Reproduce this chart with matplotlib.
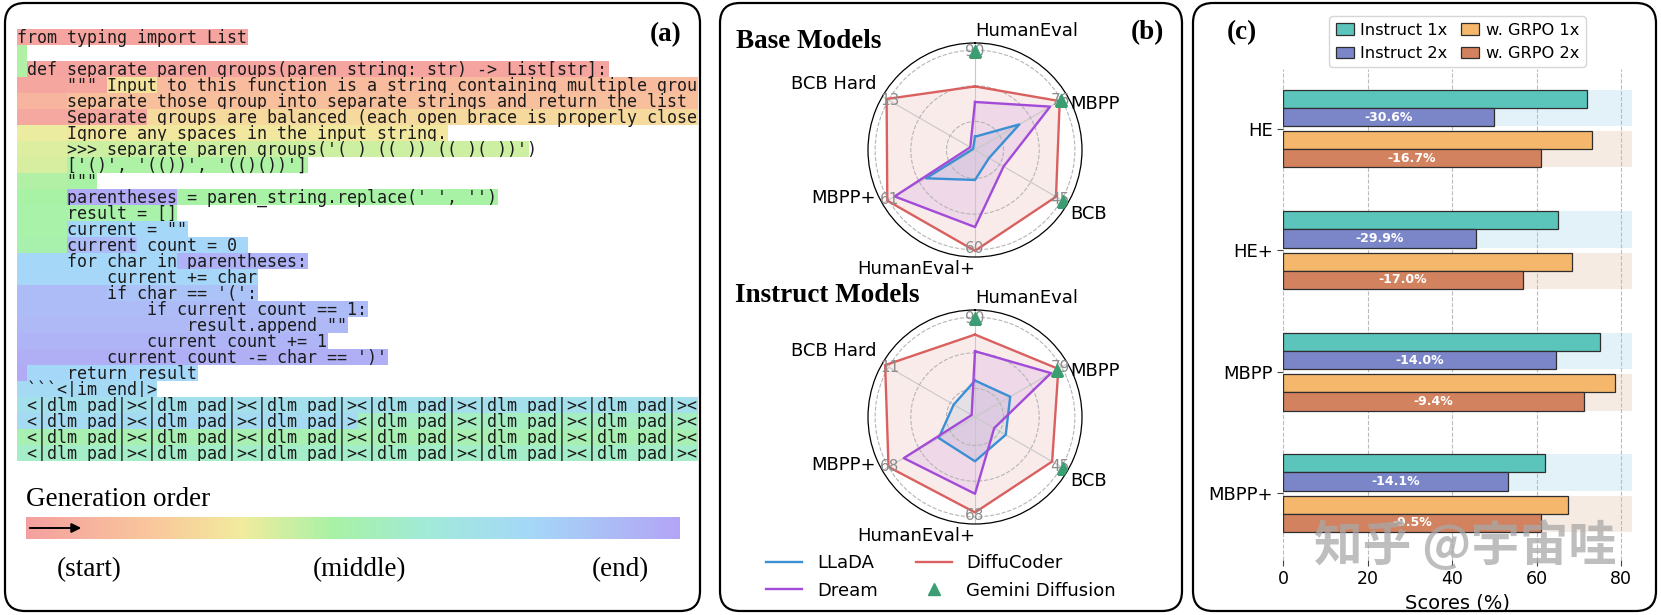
import numpy as np
import matplotlib.pyplot as plt
from matplotlib.patches import FancyBboxPatch, Rectangle
from matplotlib.lines import Line2D
from matplotlib.colors import LinearSegmentedColormap

W, H = 1661, 615
SERIF = 'Liberation Serif'

# ---------------- (a) generated code ----------------
code_lines = [
    'from typing import List',
    '',
    ' def separate_paren_groups(paren_string: str) -> List[str]:',
    '     """ Input to this function is a string containing multiple groups of nested parentheses.',
    '     separate those group into separate strings and return the list of those.',
    '     Separate groups are balanced (each open brace is properly closed within each other',
    '     Ignore any spaces in the input string.',
    "     >>> separate_paren_groups('( ) (( )) (( )( ))')",
    "     ['()', '(())', '(()())']",
    '     """',
    "     parentheses = paren_string.replace(' ', '')",
    '     result = []',
    '     current = ""',
    '     current_count = 0',
    '     for char in parentheses:',
    '         current += char',
    "         if char == '(':",
    '             if current_count == 1:',
    '                 result.append ""',
    '             current_count += 1',
    "         current_count -= char == ')'",
    '     return result',
    ' ```<|im_end|>',
    ' ' + '<|dlm_pad|>' * 7,
    ' ' + '<|dlm_pad|>' * 7,
    ' ' + '<|dlm_pad|>' * 7,
    ' ' + '<|dlm_pad|>' * 7,
]
# highlighted spans per line: (first column, end column, generation order 0..1)
code_spans = [
    [(0, 23, 0.02)],
    [(0, 1, 0.45)],
    [(0, 1, 0.45), (1, 59, 0.02)],
    [(0, 9, 0.03), (9, 14, 0.3), (14, 99, 0.13)],
    [(0, 5, 0.1), (5, 99, 0.15)],
    [(0, 13, 0.04), (13, 99, 0.26)],
    [(0, 5, 0.34), (5, 43, 0.31)],
    [(0, 5, 0.37), (5, 51, 0.4)],
    [(0, 5, 0.38), (5, 29, 0.46)],
    [(0, 5, 0.45), (5, 8, 0.47)],
    [(0, 5, 0.47), (5, 16, 0.97), (16, 48, 0.47)],
    [(0, 16, 0.48)],
    [(0, 5, 0.48), (5, 17, 0.77)],
    [(0, 5, 0.49), (5, 12, 0.9), (12, 23, 0.78)],
    [(0, 16, 0.77), (16, 29, 0.94)],
    [(0, 24, 0.78)],
    [(0, 9, 0.9), (9, 24, 0.86)],
    [(0, 35, 0.9)],
    [(0, 33, 0.91)],
    [(0, 31, 0.93)],
    [(0, 37, 0.95)],
    [(0, 1, 0.97), (1, 18, 0.77)],
    [(0, 14, 0.75)],
    [(0, 99, 0.7)],
    [(0, 34, 0.74), (34, 99, 0.55)],
    [(0, 99, 0.5)],
    [(0, 99, 0.57)],
]
order_stops = [0, 0.2, 0.33, 0.47, 0.62, 0.77, 1]
order_colors = ['#F4A0A0', '#FAC99B', '#F1EC9E', '#A8F2A6', '#A2EADB', '#A5D8F8', '#B3A5F5']
order_marks = ['(start)', '(middle)', '(end)']

# ---------------- (b) radar ----------------
radar_axes = ['HumanEval', 'MBPP', 'BCB', 'HumanEval+', 'MBPP+', 'BCB Hard']
base_max = [90, 76, 45, 60, 61, 13]
base_llada = [35.4, 50.1, 18.6, 30.6, 42.5, 4.1]
base_dream = [57.3, 69.0, 23.9, 50.4, 58.0, 4.4]
base_diffucoder = [67.1, 74.9, 43.0, 60.4, 61.6, 13.2]
instruct_max = [90, 79, 45, 68, 68, 11]
instruct_llada = [50.0, 46.2, 24.7, 41.5, 40.4, 5.2]
instruct_dream = [68.5, 72.3, 20.5, 57.0, 59.6, 3.6]
instruct_diffucoder = [79.0, 77.0, 41.6, 65.9, 68.0, 11.3]
gemini = [89.6, 76.0, 45.4, np.nan, np.nan, np.nan]
label_ha = ['left', 'left', 'left', 'right', 'right', 'right']
label_va = ['bottom', 'top', 'top', 'top', 'bottom', 'bottom']

# ---------------- (c) bars ----------------
groups = ['HE', 'HE+', 'MBPP', 'MBPP+']
instruct_1x = [72.0, 65.2, 75.1, 61.9]
instruct_2x = [50.0, 45.7, 64.6, 53.2]
grpo_1x = [73.2, 68.3, 78.6, 67.5]
grpo_2x = [61.0, 56.7, 71.2, 61.1]

c_llada, c_dream, c_diffu, c_gem = '#3B8FD3', '#A24BD8', '#D9605F', '#3A9E72'

fig = plt.figure(figsize=(W / 100, H / 100), dpi=100)
base = fig.add_axes([0, 0, 1, 1])
base.axis('off')
for x0, x1 in [(5, 700), (720, 1182), (1193, 1656)]:
    base.add_patch(FancyBboxPatch((x0, 3), x1 - x0, 608,
                                  boxstyle='round,pad=0,rounding_size=20',
                                  fc='none', ec='black', lw=1.6))
base.text(666, 35, '(a)', family=SERIF, weight='bold', fontsize=19.5, ha='center', va='center')
base.text(1147, 33, '(b)', family=SERIF, weight='bold', fontsize=19.5, ha='center', va='center')
base.text(1242, 33, '(c)', family=SERIF, weight='bold', fontsize=19.5, ha='center', va='center')
base.text(736, 41, 'Base Models', family=SERIF, weight='bold', fontsize=19.5, ha='left', va='center')
base.text(735, 296, 'Instruct Models', family=SERIF, weight='bold', fontsize=19.5, ha='left', va='center')
base.set_xlim(0, W)
base.set_ylim(H, 0)

# ---- panel (a)
cmap = LinearSegmentedColormap.from_list('order', list(zip(order_stops, order_colors)))
axc = fig.add_axes([0, 0, 698 / W, 1])
axc.axis('off')
cx, cw, cy, lh = 17, 10.03, 37, 16
for i, (line, spans) in enumerate(zip(code_lines, code_spans)):
    yc = cy + i * lh
    for c0, c1, t in spans:
        axc.add_patch(Rectangle((cx + c0 * cw, yc - lh / 2), (c1 - c0) * cw, lh,
                                fc=cmap(t), ec='none', lw=0, antialiased=False, zorder=1 + 2 * i))
    txt = axc.text(cx, yc + 6, line, family='DejaVu Sans Mono', fontsize=12, ha='left',
                   va='baseline', color='#1c1c1c', zorder=2 + 2 * i, clip_on=True)
    if i == len(code_lines) - 1:
        # the last row is cut at its own highlight band, like the rows above it
        txt.set_clip_path(Rectangle((0, yc - lh / 2), 698, lh, transform=axc.transData))

axc.imshow(np.linspace(0, 1, 256)[None, :], cmap=cmap, extent=(26, 680, 539, 517),
           aspect='auto', zorder=100)
axc.annotate('', xy=(84, 528), xytext=(27, 528),
             arrowprops=dict(arrowstyle='-|>', color='black', lw=1.4, mutation_scale=14), zorder=101)
axc.text(26, 499, 'Generation order', family=SERIF, fontsize=19.5, ha='left', va='center')
for xm, t in zip([89, 359, 620], order_marks):
    axc.text(xm, 570, t, family=SERIF, fontsize=19.5, ha='center', va='center')
axc.set_xlim(0, 698)
axc.set_ylim(H, 0)

# ---- panel (b)
angles = np.linspace(0, 2 * np.pi, len(radar_axes), endpoint=False)


def radar(cy_px, maxes, llada, dream, diffu):
    R = 107
    ax = fig.add_axes([(975 - R) / W, 1 - (cy_px + R) / H, 2 * R / W, 2 * R / H], projection='polar')
    ax.set_theta_offset(np.pi / 2)
    ax.set_theta_direction(-1)
    mx = np.array(maxes, dtype=float)
    aa = np.append(angles, angles[0])
    for vals, col in [(llada, c_llada), (dream, c_dream), (diffu, c_diffu)]:
        r = np.array(vals) / mx
        rr = np.append(r, r[0])
        ax.fill(aa, rr, color=col, alpha=0.12, lw=0)
        ax.plot(aa, rr, color=col, lw=1.7)
    ax.plot(angles, np.array(gemini) / mx, ls='none', marker='^', ms=9, color=c_gem, zorder=5)
    for th, name, ha, va in zip(angles, radar_axes, label_ha, label_va):
        r_lab = 1.1 if (ha == 'right' and va == 'bottom') else 1.07
        ax.text(th, r_lab, name, ha=ha, va=va, fontsize=13)
    for th, m in zip(angles, maxes):
        ax.text(th, 0.99, str(m), ha='center', va='center', fontsize=11, color='#8c8c8c')
    ax.set_ylim(0.3, 1.05)
    ax.set_yticks([0.5, 0.75, 1.0])
    ax.set_yticklabels([])
    ax.set_xticks(angles)
    ax.set_xticklabels([])
    ax.yaxis.grid(True, color='#b5b5b5', ls='--', lw=0.8)
    ax.xaxis.grid(True, color='#c8c8c8', lw=0.8)
    ax.spines['polar'].set_linewidth(0.9)
    return ax


radar(150, base_max, base_llada, base_dream, base_diffucoder)
radar(417, instruct_max, instruct_llada, instruct_dream, instruct_diffucoder)

handles = [Line2D([], [], color=c_llada, lw=1.7), Line2D([], [], color=c_dream, lw=1.7),
           Line2D([], [], color=c_diffu, lw=1.7),
           Line2D([], [], color=c_gem, ls='none', marker='^', ms=9)]
fig.legend(handles, ['LLaDA', 'Dream', 'DiffuCoder', 'Gemini Diffusion'], ncol=2,
           loc='center', bbox_to_anchor=(941 / W, 1 - 577 / H), frameon=False,
           fontsize=13, columnspacing=2.1, handlelength=2.0)

# ---- panel (c)
axb = fig.add_axes([1283 / W, 1 - 560 / H, 349 / W, 491 / H])
axb.patch.set_alpha(0)
y = np.arange(len(groups))
xmax = 82.6
h = 0.15
axb.barh(y - 0.17, xmax, height=0.30, color='#E3F2F9', zorder=0.1)
axb.barh(y + 0.17, xmax, height=0.30, color='#F6EBE3', zorder=0.1)
series = [(instruct_1x, -0.245, '#5BC5BC', 'Instruct 1x'),
          (instruct_2x, -0.095, '#7B86C9', 'Instruct 2x'),
          (grpo_1x, 0.095, '#F4B76C', 'w. GRPO 1x'),
          (grpo_2x, 0.245, '#D3825F', 'w. GRPO 2x')]
for vals, off, col, lab in series:
    axb.barh(y + off, vals, height=h, color=col, edgecolor='#2e2e2e', lw=0.9, zorder=2, label=lab)
for one, two, off in [(instruct_1x, instruct_2x, -0.095), (grpo_1x, grpo_2x, 0.245)]:
    for i in range(len(groups)):
        pct = (two[i] / one[i] - 1) * 100
        axb.text(two[i] / 2, y[i] + off, f'{pct:.1f}%', ha='center', va='center',
                 color='white', weight='bold', fontsize=9, zorder=3)
axb.set_xlim(0, xmax)
axb.set_ylim(3.55, -0.49)
axb.set_yticks(y)
axb.set_yticklabels(groups)
axb.set_xticks([0, 20, 40, 60, 80])
axb.tick_params(axis='y', labelsize=13, length=4, color='#444444')
axb.tick_params(axis='x', labelsize=12.5, length=4, color='#444444')
axb.xaxis.grid(True, ls='--', color='#bbbbbb', lw=0.8)
axb.set_axisbelow(True)
for s in axb.spines.values():
    s.set_visible(False)
axb.set_xlabel('Scores (%)', fontsize=14)
axb.legend(ncol=2, loc='lower center', bbox_to_anchor=(0.5, 1.0), borderaxespad=0.1,
           fontsize=11.7, handlelength=1.1, handletextpad=0.4, columnspacing=0.85)

fig.text(1465 / W, 1 - 546 / H, '知乎 @宇宙哇', family=['Noto Sans CJK SC', 'DejaVu Sans'],
         fontsize=35, weight='bold', color='#a8a8a8', alpha=0.75, ha='center', va='center', zorder=10)

fig.savefig('out.png', dpi=100)
